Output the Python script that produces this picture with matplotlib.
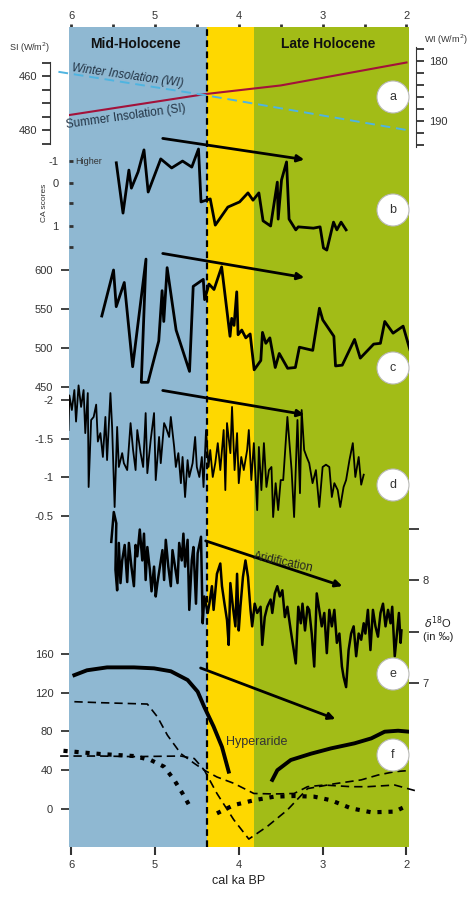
import numpy as np
import matplotlib
matplotlib.use("Agg")
import matplotlib.pyplot as plt

plt.rcParams['font.family'] = ['Liberation Sans', 'DejaVu Sans']

W, H = 474, 905
X0, X1 = 68.5, 409.0      # frame in pixels
Y0, Y1 = 27.0, 847.0
XLIM = (6.03, 1.97)

# ---- data (ka BP, value) ----
si_ka = [6.03, 4.4, 3.5, 2.0]
si_val = [474.5, 466.7, 463.5, 455.0]
wi_ka = [6.15, 4.4, 2.0]
wi_val = [181.8, 185.7, 191.5]

b_ka = [5.46, 5.38, 5.31, 5.28, 5.20, 5.13, 5.08, 4.93, 4.80, 4.67, 4.56, 4.48, 4.45, 4.42, 4.34, 4.28,
        4.13, 3.99, 3.89, 3.83, 3.76, 3.71, 3.62, 3.54, 3.53, 3.49, 3.43, 3.40, 3.32, 3.29, 3.11, 3.03,
        2.99, 2.95, 2.87, 2.83, 2.78, 2.72]
b_val = [-0.47, 0.70, -0.30, 0.12, -0.26, -0.77, 0.21, -0.56, -0.35, -0.51, -0.37, -0.79, 0.44, 0.42,
         0.37, 0.98, 0.56, 0.44, 0.23, 0.40, 0.23, 0.88, 1.0, -0.02, 0.84, -0.07, -0.49, 0.84, 1.09,
         1.02, 1.05, 1.02, 1.51, 1.56, 0.91, 1.09, 0.91, 1.09]

c_ka = [5.633, 5.493, 5.461, 5.365, 5.265, 5.106, 5.162, 5.082, 4.954, 4.914, 4.894, 4.854, 4.747,
        4.587, 4.543, 4.423, 4.407, 4.355, 4.295, 4.204, 4.104, 4.084, 4.056, 4.024, 4.008, 3.964,
        3.916, 3.864, 3.816, 3.737, 3.717, 3.677, 3.629, 3.565, 3.517, 3.417, 3.325, 3.277, 3.118,
        3.038, 2.998, 2.866, 2.846, 2.766, 2.619, 2.551, 2.391, 2.311, 2.259, 2.160, 2.040, 1.960]
c_val = [541, 600, 553, 584, 476, 614, 456, 456, 509, 573.5, 534, 603, 523, 470, 579, 588, 562, 582,
         575, 604, 515, 538, 529, 572, 517, 523, 513, 518, 472, 484, 520, 506, 513, 475, 493, 474,
         475, 501, 497, 551, 536, 515, 477, 478, 511, 487, 505, 506, 534, 519, 528, 498]

d_ka = [6.03, 6.02, 5.99, 5.96, 5.94, 5.91, 5.88, 5.85, 5.83, 5.80, 5.79, 5.76, 5.73, 5.70, 5.68, 5.65,
        5.62, 5.59, 5.57, 5.53, 5.51, 5.48, 5.45, 5.43, 5.39, 5.37, 5.33, 5.29, 5.26, 5.23, 5.21, 5.17,
        5.14, 5.11, 5.09, 5.05, 5.01, 4.99, 4.95, 4.93, 4.89, 4.87, 4.83, 4.81, 4.77, 4.75, 4.72, 4.69,
        4.67, 4.64, 4.61, 4.59, 4.55, 4.52, 4.50, 4.47, 4.44, 4.42, 4.39, 4.36, 4.34, 4.31, 4.28, 4.25,
        4.22, 4.18, 4.16, 4.14, 4.10, 4.08, 4.05, 4.02, 4.00, 3.97, 3.94, 3.90, 3.88, 3.85, 3.82, 3.78,
        3.76, 3.73, 3.70, 3.67, 3.64, 3.61, 3.59, 3.56, 3.53, 3.50, 3.47, 3.42, 3.37, 3.34, 3.30, 3.27,
        3.25, 3.22, 3.19, 3.16, 3.12, 3.08, 3.04, 3.00, 2.96, 2.92, 2.89, 2.86, 2.82, 2.79, 2.75, 2.72,
        2.68, 2.64, 2.61, 2.57, 2.54, 2.51]
d_val = [-1.61, -2.06, -1.87, -2.13, -1.72, -2.19, -1.91, -2.13, -1.57, -2.09, -0.87, -1.74, -1.78,
         -1.94, -1.46, -1.57, -1.26, -1.78, -1.22, -2.09, -1.65, -0.61, -1.65, -1.13, -1.31, -1.18,
         -1.09, -1.70, -1.35, -1.09, -1.61, -1.31, -1.13, -1.83, -1.05, -1.48, -1.83, -0.96, -1.52,
         -1.18, -1.70, -1.65, -1.52, -1.78, -1.39, -1.13, -1.31, -0.92, -1.26, -0.74, -1.22, -1.00,
         -1.18, -1.52, -1.13, -1.00, -1.26, -0.87, -1.61, -1.13, -1.35, -1.00, -1.18, -1.44, -1.09,
         -1.61, -0.83, -1.70, -1.31, -1.91, -1.09, -1.57, -0.92, -1.26, -1.09, -1.35, -1.61, -0.96,
         -1.44, -0.57, -1.39, -0.83, -1.44, -0.87, -1.09, -1.13, -0.48, -0.92, -0.57, -0.96, -0.96,
         -1.78, -1.09, -0.48, -1.74, -0.79, -1.87, -1.35, -1.26, -1.18, -0.92, -1.09, -0.61, -1.13,
         -1.16, -1.13, -0.74, -0.92, -0.83, -0.61, -0.87, -0.96, -1.22, -1.44, -1.00, -1.26, -0.90,
         -1.03]

e_ka = [5.52, 5.49, 5.46, 5.47, 5.45, 5.43, 5.41, 5.39, 5.36, 5.33, 5.31, 5.28, 5.25, 5.23, 5.21, 5.18,
        5.15, 5.13, 5.11, 5.09, 5.06, 5.04, 5.01, 4.99, 4.97, 4.94, 4.91, 4.89, 4.87, 4.84, 4.81, 4.79,
        4.76, 4.73, 4.71, 4.68, 4.66, 4.64, 4.61, 4.59, 4.56, 4.54, 4.51, 4.49, 4.45, 4.43, 4.41, 4.37,
        4.35, 4.32, 4.30, 4.26, 4.22, 4.20, 4.17, 4.14, 4.12, 4.10, 4.07, 4.04, 4.02, 4.00, 3.98, 3.95,
        3.92, 3.89, 3.86, 3.84, 3.81, 3.78, 3.74, 3.72, 3.69, 3.66, 3.62, 3.60, 3.57, 3.54, 3.51, 3.48,
        3.45, 3.42, 3.38, 3.35, 3.32, 3.29, 3.26, 3.24, 3.21, 3.18, 3.16, 3.13, 3.10, 3.07, 3.04, 3.01,
        2.98, 2.95, 2.92, 2.89, 2.86, 2.83, 2.80, 2.77, 2.75, 2.72, 2.69, 2.66, 2.63, 2.60, 2.57, 2.54,
        2.51, 2.49, 2.46, 2.43, 2.40, 2.37, 2.34, 2.31, 2.28, 2.25, 2.22, 2.19, 2.17, 2.14, 2.11, 2.09,
        2.07, 2.06]
e_val = [8.37, 8.66, 8.55, 8.10, 7.90, 8.36, 7.97, 8.19, 8.34, 7.98, 8.36, 8.13, 7.94, 8.34, 8.23, 8.49,
         8.19, 8.45, 8.00, 8.32, 8.10, 7.89, 8.13, 7.84, 7.97, 8.13, 8.29, 8.00, 8.39, 8.13, 7.94, 8.29,
         8.13, 7.97, 8.36, 8.19, 8.45, 8.13, 8.39, 7.71, 8.19, 8.32, 7.77, 8.26, 8.42, 7.58, 7.84, 7.68,
         7.77, 7.94, 7.71, 8.06, 8.16, 7.94, 7.77, 7.61, 7.37, 7.97, 7.74, 7.55, 8.06, 7.51, 7.74, 8.03,
         8.19, 8.03, 7.71, 7.55, 7.77, 7.68, 7.74, 7.37, 7.64, 7.74, 7.81, 7.68, 7.87, 7.94, 7.84, 7.90,
         7.64, 7.74, 7.51, 7.35, 7.19, 7.74, 7.58, 7.77, 7.51, 7.74, 7.71, 7.48, 7.16, 7.87, 7.71, 7.55,
         7.68, 7.29, 7.71, 7.55, 7.71, 7.39, 7.48, 7.16, 7.06, 6.96, 7.32, 7.48, 7.55, 7.26, 7.48, 7.42,
         7.58, 7.48, 7.71, 7.32, 7.71, 7.55, 7.45, 7.68, 7.77, 7.55, 7.71, 7.58, 7.74, 7.26, 7.51, 7.68,
         7.39, 7.51]

f1_ka = [5.96, 5.81, 5.57, 5.25, 5.01, 4.81, 4.61, 4.49, 4.41, 4.30, 4.20, 4.12]
f1_val = [138, 143, 146, 146, 145, 142, 133, 121, 105, 85, 64, 38.5]
f2_ka = [3.60, 3.54, 3.38, 3.14, 2.90, 2.62, 2.42, 2.26, 2.10, 1.97]
f2_val = [30, 40, 50.5, 57, 62.5, 67.7, 72.8, 79.7, 80.7, 79.7]
fa_ka = [5.96, 5.65, 5.09, 4.97, 4.85, 4.69, 4.53, 4.41, 4.26, 4.06, 3.88, 3.66, 3.42, 3.18, 2.86,
         2.54, 2.34, 2.14, 1.92]
fa_val = [110.6, 109.6, 108.2, 95, 76, 57, 47, 40, 16, -11, -31, -18, -1, 21, 26, 30, 35, 38.5, 40]
fb_ka = [6.13, 5.65, 5.25, 4.69, 4.53, 4.41, 4.26, 4.06, 3.82, 3.58, 3.34, 3.18, 2.98, 2.66, 2.46,
         2.14, 1.90]
fb_val = [54.6, 54.6, 54, 54.6, 52, 40, 33, 26.5, 16, 15.5, 16, 23, 24.7, 23, 23, 24.7, 19]
fc1_ka = [6.09, 5.65, 5.25, 5.05, 4.89, 4.77, 4.67, 4.57]
fc1_val = [60, 56.7, 54.6, 50.5, 43.6, 30, 16, 0.7]
fc2_ka = [4.26, 4.06, 3.82, 3.58, 3.34, 3.10, 2.90, 2.66, 2.42, 2.14, 1.98]
fc2_val = [-4.5, 4, 9, 12.7, 13.4, 12.7, 9, 0.7, -3.4, -2.7, 4]


def fx(px):
    return px / W


def fy(py):
    return 1 - py / H


fig = plt.figure(figsize=(W / 100, H / 100), dpi=100)
rect = [fx(X0), fy(Y1), fx(X1) - fx(X0), fy(Y0) - fy(Y1)]

# background bands
bg = fig.add_axes(rect)
bg.set_xlim(*XLIM)
bg.set_ylim(0, 1)
bg.axvspan(6.03, 4.38, color='#8fb8d2', lw=0)
bg.axvspan(4.38, 3.82, color='#fed800', lw=0)
bg.axvspan(3.82, 1.97, color='#a2bc17', lw=0)
bg.axvline(4.38, color='black', ls='--', lw=1.6, dashes=(3, 2))
for s in bg.spines.values():
    s.set_visible(False)
bg.set_yticks([])
bg.set_xticks([6, 5, 4, 3, 2])
bg.tick_params(axis='x', direction='out', length=6, width=1.5, labelsize=8, colors='#333333', pad=3)
bg.set_xlabel('cal ka BP', fontsize=9, color='#222222', labelpad=4)
top = bg.secondary_xaxis('top')
top.set_xticks([6, 5.5, 5, 4.5, 4, 3.5, 3, 2.5, 2])
top.set_xticklabels(['6', '', '5', '', '4', '', '3', '', '2'])
top.tick_params(direction='out', length=2.5, width=2, labelsize=8, colors='#333333', pad=2)
top.spines['top'].set_visible(False)


def panel(y_at, v_at, px_per_unit, up):
    # full-height transparent axes with a linear mapping from the figure's pixel scale
    ax = fig.add_axes(rect, sharex=bg)
    ax.patch.set_alpha(0)
    sgn = 1 if up else -1
    ax.set_ylim(v_at - sgn * (Y1 - y_at) / px_per_unit, v_at + sgn * (y_at - Y0) / px_per_unit)
    for s in ax.spines.values():
        s.set_visible(False)
    ax.tick_params(axis='x', which='both', bottom=False, labelbottom=False)
    ax.tick_params(axis='y', labelsize=8, colors='#333333', length=6, width=1.3)
    return ax


# a
axa = panel(76, 460, 2.7, False)
axa.plot(si_ka, si_val, color='#a3123a', lw=1.5)
axa.spines['left'].set_visible(True)
axa.spines['left'].set_position(('outward', 13))
axa.spines['left'].set_bounds(454.8, 485)
axa.spines['left'].set_color('#333333')
axa.set_yticks([455, 460, 465, 470, 475, 480, 485])
axa.set_yticklabels(['', '460', '', '', '', '480', ''])
axw = panel(61, 180, 6, False)
axw.plot(wi_ka, wi_val, color='#4fb4e0', lw=1.4, ls='--', dashes=(5, 3), clip_on=False)
axw.yaxis.tick_right()
axw.spines['right'].set_visible(True)
axw.spines['right'].set_position(('outward', 5))
axw.spines['right'].set_bounds(177.6, 194.4)
axw.spines['right'].set_color('#333333')
axw.set_yticks(range(178, 196, 2))
axw.set_yticklabels(['', '180', '', '', '', '', '190', '', ''])

# b
axb = panel(183, 0, 43, False)
axb.plot(b_ka, b_val, color='black', lw=2)
axb.set_yticks([-0.51, 0, 0.465, 1, 1.49])
axb.set_yticklabels(['-1', '0', '', '1', ''])
axb.tick_params(axis='y', direction='in', length=3, width=2, pad=7)

# c
axc = panel(270, 600, 0.78, True)
axc.plot(c_ka, c_val, color='black', lw=2)
axc.set_yticks([450, 500, 550, 600])
axc.tick_params(axis='y', pad=5)

# d
axd = panel(400, -2, 77, False)
axd.plot(d_ka, d_val, color='black', lw=1.3)
axd.set_yticks([-2, -1.5, -1, -0.5])
axd.set_yticklabels(['-2', '-1.5', '-1', '-0.5'])
axd.tick_params(axis='y', pad=5)

# e
axe = panel(580, 8, 103, True)
axe.plot(e_ka, e_val, color='black', lw=1.8)
axe.yaxis.tick_right()
axe.set_yticks([7, 7.5, 8, 8.5])
axe.set_yticklabels(['7', '', '8', ''])
axe.tick_params(axis='y', pad=3, length=7)

# f
axf = panel(809, 0, 0.97, True)
axf.plot(f1_ka, f1_val, color='black', lw=2.8)
axf.plot(f2_ka, f2_val, color='black', lw=2.8)
axf.plot(fa_ka, fa_val, color='black', lw=1.2, ls='--', dashes=(5, 3))
axf.plot(fb_ka, fb_val, color='black', lw=1.2, ls='--', dashes=(5, 3), clip_on=False)
axf.plot(fc1_ka, fc1_val, color='black', lw=3, ls=':', clip_on=False)
axf.plot(fc2_ka, fc2_val, color='black', lw=3, ls=':')
axf.set_yticks([0, 40, 80, 120, 160])
axf.tick_params(axis='y', pad=5)

# arrows
for (x0, y0, x1, y1) in [(160, 138, 307, 160), (160, 253, 307, 278), (160, 390, 307, 415),
                         (203, 540, 345, 587), (198, 667, 338, 720)]:
    fig.add_artist(matplotlib.patches.FancyArrowPatch(
        (fx(x0), fy(y0)), (fx(x1), fy(y1)), transform=fig.transFigure,
        arrowstyle='-|>', mutation_scale=10, lw=2, color='black'))

# circle labels
for lab, py in zip('abcdef', [97, 210, 368, 485, 674, 755]):
    fig.text(fx(393), fy(py), lab, ha='center', va='center', fontsize=9, color='#333333',
             bbox=dict(boxstyle='circle,pad=0.8', fc='white', ec='#bbbbbb', lw=0.8))

# texts
fig.text(fx(135), fy(44), 'Mid-Holocene', ha='center', va='center', fontsize=10, weight='bold', color='#111111')
fig.text(fx(328), fy(44), 'Late Holocene', ha='center', va='center', fontsize=10, weight='bold', color='#111111')
fig.text(fx(128), fy(76), 'Winter Insolation (WI)', ha='center', va='center', fontsize=8.5,
         style='italic', rotation=-8, color='#223344')
fig.text(fx(126), fy(117), 'Summer Insolation (SI)', ha='center', va='center', fontsize=8.5,
         rotation=8, color='#223344')
fig.text(fx(30), fy(48), 'SI (W/m$^2$)', ha='center', va='center', fontsize=6.5, color='#333333')
fig.text(fx(446), fy(40), 'WI (W/m$^2$)', ha='center', va='center', fontsize=6.5, color='#333333')
fig.text(fx(75), fy(161), 'Higher', ha='left', va='center', fontsize=6.5, color='#333333')
fig.text(fx(44), fy(203), 'CA scores', ha='center', va='center', fontsize=6, rotation=90, color='#333333')
fig.text(fx(257), fy(742), 'Hyperaride', ha='center', va='center', fontsize=9, color='#333333')
fig.text(fx(283), fy(562), 'Aridification', ha='center', va='center', fontsize=8.5, rotation=-12, color='#222222')
fig.text(fx(438), fy(628), '$\\delta^{18}$O\n(in \u2030)', ha='center', va='center', fontsize=8,
         color='#222222', linespacing=1.1)

fig.savefig('out.png', dpi=100)
